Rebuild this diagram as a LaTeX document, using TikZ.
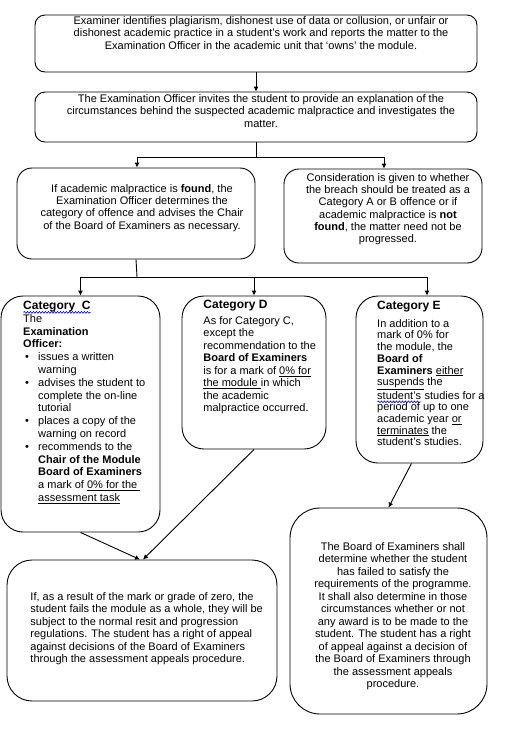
\documentclass[tikz,border=0pt]{standalone}
\usepackage{fontspec}
\setmainfont{Liberation Sans}
\usetikzlibrary{arrows.meta,decorations.pathmorphing}

\newlength\spellwd
\newcommand\spellmark[1]{\settowidth\spellwd{#1}\rlap{#1}\raisebox{-2.8pt}[0pt][0pt]{\tikz[baseline=0pt,x=1pt,y=1pt]\draw[blue,line width=0.6pt,decorate,decoration={snake,amplitude=0.9pt,segment length=3pt}] (0,0) -- (\spellwd,0);}}
\newcommand\itm{\hspace*{2pt}\makebox[13pt][l]{\textbullet}}
\newcommand\ind{\hspace*{15pt}}
\newcommand\cathead[1]{{\fontsize{12}{14}\selectfont\bfseries #1}}

\begin{document}
\begin{tikzpicture}[x=1pt,y=-1pt,line width=0.9pt,
  panel/.style={draw,rounded corners=#1,inner sep=0pt},
  panel/.default=10pt,
  words/.style={inner sep=0pt,font=\fontsize{11}{12.5}\selectfont},
  link/.style={-{Latex[length=5pt,width=5pt]}}]
\useasboundingbox (0,0) rectangle (508,729);

% the boxes
\node[panel,minimum width=442pt,minimum height=57pt] (report) at (256,43.5) {};
\node[panel,minimum width=442pt,minimum height=50pt] (invite) at (256,117) {};
\node[panel=15pt,minimum width=238pt,minimum height=91pt] (found) at (136,213.5) {};
\node[panel=15pt,minimum width=198pt,minimum height=94pt] (notfound) at (383,216) {};
\node[panel=22pt,minimum width=159pt,minimum height=236pt] (catC) at (80.5,414) {};
\node[panel=22pt,minimum width=144pt,minimum height=153pt] (catD) at (254,372.5) {};
\node[panel=22pt,minimum width=127pt,minimum height=167pt] (catE) at (419.5,379.5) {};
\node[panel=25pt,minimum width=270pt,minimum height=141pt] (resit) at (142,630.5) {};
\node[panel=30pt,minimum width=197pt,minimum height=206pt] (award) at (388.5,611) {};

% the texts
\node[words,align=center,anchor=north] (reporttext) at (261,16) {Examiner identifies plagiarism, dishonest use of data or collusion, or unfair or\\
dishonest academic practice in a student's work and reports the matter to the\\
Examination Officer in the academic unit that `owns' the module.};
\node[words,align=center,anchor=north] (invitetext) at (261,94) {The Examination Officer invites the student to provide an explanation of the\\
circumstances behind the suspected academic malpractice and investigates the\\
matter.};
\node[words,align=center,anchor=north,font=\fontsize{11}{12.2}\selectfont] (foundtext) at (142,184) {If academic malpractice is \textbf{found}, the\\
Examination Officer determines the\\
category of offence and advises the Chair\\
of the Board of Examiners as necessary.};
\node[words,align=center,anchor=north,font=\fontsize{11}{12.2}\selectfont] (notfoundtext) at (388,173) {Consideration is given to whether\\
the breach should be treated as a\\
Category A or B offence or if\\
academic malpractice is \textbf{not}\\
\textbf{found}, the matter need not be\\
progressed.};
\node[words,align=left,anchor=north west,font=\fontsize{11}{12.8}\selectfont] (catCtext) at (23,301) {\cathead{\spellmark{Category\ \ C}}\\
The\\
\textbf{Examination}\\
\textbf{Officer:}\\
\itm issues a written\\
\ind warning\\
\itm advises the student to\\
\ind complete the on-line\\
\ind tutorial\\
\itm places a copy of the\\
\ind warning on record\\
\itm recommends to the\\
\ind\textbf{Chair of the Module}\\
\ind\textbf{Board of Examiners}\\
\ind a mark of \underline{0\% for the }\\
\ind\underline{assessment task}};
\node[words,align=left,anchor=north west] (catDtext) at (203,300) {\cathead{Category D}\\[3pt]
As for Category C,\\
except the\\
recommendation to the\\
\textbf{Board of Examiners}\\
is for a mark of \underline{0\% for}\\
\underline{the module }in which\\
the academic\\
malpractice occurred.};
\node[words,align=left,anchor=north west,font=\fontsize{11}{11.7}\selectfont] (catEtext) at (377,301) {\cathead{Category E}\\[6pt]
In addition to a\\
mark of 0\% for\\
the module, the\\
\textbf{Board of}\\
\textbf{Examiners} \underline{either}\\
\underline{suspends} the\\
\spellmark{student's} studies for a\\
period of up to one\\
academic year \underline{or}\\
\underline{terminates} the\\
student's studies.};
\node[words,align=left,anchor=north west] (resittext) at (30,592) {If, as a result of the mark or grade of zero, the\\
student fails the module as a whole, they will be\\
subject to the normal resit and progression\\
regulations. The student has a right of appeal\\
against decisions of the Board of Examiners\\
through the assessment appeals procedure.};
\node[words,align=center,anchor=north] (awardtext) at (393,542) {The Board of Examiners shall\\
determine whether the student\\
has failed to satisfy the\\
requirements of the programme.\\
It shall also determine in those\\
circumstances whether or not\\
any award is to be made to the\\
student. The student has a right\\
of appeal against a decision of\\
the Board of Examiners through\\
the assessment appeals\\
procedure.};

% the connectors
\coordinate (split1) at (256,157);
\coordinate (split2) at (137,277);
\draw[link] (report) -- (invite);
\draw (invite.south) -- (split1);
\draw[link] (split1) -| ([xshift=1pt]found.north);
\draw[link] (split1) -| ([xshift=1pt]notfound.north);
\draw (found.south) -- (split2);
\draw[link] (split2) -| (catC.north);
\draw[link] (split2) -| (catD.north);
\draw[link] (split2) -| ([xshift=7.5pt]catE.north);
\draw[link] (catC.south) -- ([xshift=-2pt]resit.north);
\draw[link] (catD.south) -- ([xshift=1pt]resit.north);
\draw[link] ([xshift=-8pt]catE.south) -- (award.north);
\end{tikzpicture}
\end{document}
